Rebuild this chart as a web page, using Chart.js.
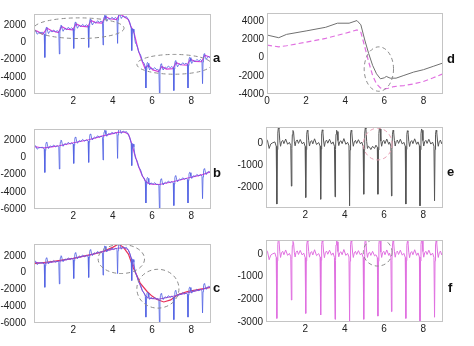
<!DOCTYPE html>
<html><head><meta charset="utf-8">
<script src="https://cdn.jsdelivr.net/npm/chart.js@4"></script>
<style>
html,body{margin:0;padding:0;background:#fff;}
#fig{position:relative;width:474px;height:346px;overflow:hidden;background:#fff;}
#fig canvas{position:absolute;}
.lbl{position:absolute;font:bold 13px "Liberation Sans",Arial,sans-serif;line-height:13px;color:#111;}
</style></head><body>
<div id="fig">
<canvas id="ca" width="237" height="115" style="left:0px;top:0px"></canvas>
<canvas id="cb" width="237" height="115" style="left:0px;top:115px"></canvas>
<canvas id="cc" width="237" height="116" style="left:0px;top:230px"></canvas>
<canvas id="cd" width="237" height="115" style="left:237px;top:0px"></canvas>
<canvas id="ce" width="237" height="115" style="left:237px;top:115px"></canvas>
<canvas id="cf" width="237" height="116" style="left:237px;top:230px"></canvas>
<div class="lbl" style="left:213px;top:51px">a</div>
<div class="lbl" style="left:213px;top:166px">b</div>
<div class="lbl" style="left:213px;top:281px">c</div>
<div class="lbl" style="left:447px;top:52px">d</div>
<div class="lbl" style="left:447px;top:165px">e</div>
<div class="lbl" style="left:448px;top:281px">f</div>
</div>
<script>
// ---------- tick labels ----------
const xTicksMain = [2, 4, 6, 8];
const xTicksD = [0, 2, 4, 6, 8];
const yTicksABC = [-6000, -4000, -2000, 0, 2000];
const yTicksD = [-4000, -2000, 0, 2000, 4000];
const yTicksE = [-2000, -1000, 0];
const yTicksF = [-3000, -2000, -1000, 0];

// ---------- shared time grid of the ECG traces (s) ----------
const ecgTime = [0,0.08,0.16,0.24,0.32,
0.45,0.52,0.55,0.575,0.60,0.63,0.66,0.70,0.74,0.79,0.85,0.91,1.00,1.10,
1.19,1.26,1.29,1.315,1.34,1.37,1.40,1.44,1.48,1.53,1.59,1.65,1.74,1.84,
1.92,1.99,2.02,2.045,2.07,2.10,2.13,2.17,2.21,2.26,2.32,2.38,2.47,2.57,
2.68,2.75,2.78,2.805,2.83,2.86,2.89,2.93,2.97,3.02,3.08,3.14,3.23,3.33,
3.41,3.48,3.51,3.535,3.56,3.59,3.62,3.66,3.70,3.75,3.81,3.87,3.96,4.06,
4.15,4.22,4.25,4.275,4.30,4.33,4.36,4.40,4.44,4.49,4.55,4.61,4.70,4.80,
4.87,4.94,4.97,4.995,5.02,5.05,5.08,5.12,5.16,5.21,5.27,5.33,5.42,5.52,
5.59,5.66,5.69,5.715,5.74,5.77,5.80,5.84,5.88,5.93,5.99,6.05,6.14,6.24,
6.28,6.35,6.38,6.405,6.43,6.46,6.49,6.53,6.57,6.62,6.68,6.74,6.83,6.93,
7.01,7.08,7.11,7.135,7.16,7.19,7.22,7.26,7.30,7.35,7.41,7.47,7.56,7.66,
7.73,7.80,7.83,7.855,7.88,7.91,7.94,7.98,8.02,8.07,8.13,8.19,8.28,8.38,
8.47,8.54,8.57,8.595,8.62,8.65,8.68,8.72,8.76,8.81,8.87,8.93,9.02];

// raw ECG with baseline wander (blue, panels a, b, c)
const rawEcg = [1500,1350,950,1100,1150,
1170,960,-1750,810,1520,1750,1700,1260,1030,1260,1340,1200,1440,1230,
1370,1190,-1350,1060,1770,2010,1960,1520,1290,1530,1610,1490,1750,1550,
1700,1540,-700,1410,2120,2360,2310,1870,1640,1870,1960,1840,2090,1890,
2050,1890,-580,1770,2480,2720,2680,2240,2020,2260,2360,2240,2510,2330,
2490,2330,-300,2210,2930,3160,3120,2680,2450,2690,2780,2660,2920,2740,
2900,2730,-120,2600,3310,3530,3480,3020,2780,2990,3060,2910,3000,2640,
2300,1640,-950,1090,1580,1540,1230,460,-90,-240,-610,-1150,-1460,-2230,
-2380,-2840,-5300,-3150,-2490,-2330,-2440,-2920,-3190,-3000,-2980,-3140,-2940,-3190,
-3090,-3300,-6100,-3440,-2730,-2490,-2540,-2980,-3210,-2980,-2890,-3010,-2750,-2950,
-2800,-2960,-5600,-3090,-2370,-2140,-2180,-2620,-2840,-2610,-2510,-2630,-2370,-2550,
-2410,-2570,-5300,-2690,-1970,-1740,-1780,-2220,-2450,-2210,-2120,-2240,-1980,-2160,
-2000,-2170,-4800,-2280,-1560,-1320,-1350,-1780,-2000,-1750,-1640,-1740,-1450];

// corrected ECG, panel e (gray)
const ecgE = [200,100,-250,-50,0,
50,-150,-2790,-300,450,720,650,100,-150,60,120,-30,180,-60,
30,-120,-1970,-250,380,570,520,80,-130,80,140,-20,160,-40,
40,-160,-2490,-300,400,580,530,120,-140,50,110,-40,190,-70,
20,-140,-2570,-280,420,600,540,90,-160,70,130,-10,170,-50,
50,-150,-2460,-300,400,580,520,110,-120,60,100,-30,200,-60,
30,-130,-2870,-320,410,580,530,90,-150,50,120,-20,150,-40,
40,-150,-2340,-300,450,720,640,60,-250,-150,-200,-300,-150,-250,
-100,-200,-2340,-320,430,720,640,90,-150,60,120,-30,180,-60,
40,-140,-2420,-300,400,580,520,100,-140,70,130,-20,170,-50,
30,-150,-2790,-290,390,560,510,80,-160,50,110,-30,190,-60,
50,-130,-2870,-310,420,640,580,110,-140,60,120,-20,170,-50,
40,-150,-2640,-300,400,580,520,90,-150,60,130,-30,150];

// corrected ECG, panel f (magenta)
const ecgF = [200,100,-250,-50,0,
50,-150,-2840,-300,430,650,600,100,-150,60,120,-30,180,-60,
30,-120,-2030,-250,380,560,510,80,-130,80,140,-20,160,-40,
40,-160,-2620,-300,400,580,530,120,-140,50,110,-40,190,-70,
20,-140,-2690,-280,420,600,540,90,-160,70,130,-10,170,-50,
50,-150,-2880,-300,400,600,540,110,-120,60,100,-30,200,-60,
30,-130,-2990,-320,410,600,540,90,-150,50,120,-20,150,-40,
40,-150,-2880,-300,430,640,580,80,-150,40,80,-60,120,-80,
-30,-160,-2740,-320,430,680,610,90,-150,60,120,-30,180,-60,
40,-140,-2540,-300,400,580,520,100,-140,70,130,-20,170,-50,
30,-150,-2840,-290,390,560,510,80,-160,50,110,-30,190,-60,
50,-130,-2990,-310,420,640,580,110,-140,60,120,-20,170,-50,
40,-150,-2790,-300,400,580,520,90,-150,60,130,-30,150];

// baseline estimate, panel a (magenta, wobbly)
const baseATime = [0,0.2,0.45,0.67,0.9,1.24,1.41,1.64,1.97,2.14,2.37,2.73,2.90,3.13,3.46,3.63,3.86,4.20,4.37,4.6,4.8,4.92,5.09,5.3,5.5,5.64,5.81,6.04,6.33,6.50,6.73,7.06,7.23,7.46,7.78,7.95,8.18,8.52,8.69,8.92,9.0];
const baseAVal = [1450,1250,950,1650,1350,1150,1850,1550,1450,2150,1900,1800,2550,2300,2250,3000,2750,2650,3300,2950,2650,1900,1100,-900,-2200,-3000,-2650,-3200,-3400,-2800,-3100,-3050,-2350,-2600,-2650,-1950,-2200,-2250,-1500,-1700,-1750];

// baseline estimate, panels b and c (magenta, smooth)
const baseBTime = [0,0.3,0.55,0.8,1.29,2.02,2.78,3.51,4.25,4.6,4.8,4.97,5.1,5.3,5.5,5.69,5.8,6.0,6.38,7.11,7.83,8.57,9.0];
const baseBVal = [1250,1150,1100,1200,1350,1700,2050,2500,2900,2950,2700,1600,500,-950,-2100,-2800,-3000,-3100,-3150,-2800,-2400,-2000,-1650];

// smoothed estimate, panel c (red)
const smoothCTime = [0,1,2,3,3.5,4.0,4.3,4.55,4.8,5.06,5.4,5.75,6.0,6.26,6.6,6.95,7.3,7.8,8.4,9.0];
const smoothCVal = [1050,1350,1700,2200,2500,3000,3400,3000,2200,500,-1250,-2250,-2800,-3200,-3500,-3250,-2650,-2250,-2000,-1750];

// panel d: baseline (gray solid) and estimate (magenta dashed)
const baseDTime = [0,0.6,1,2,3,3.6,4.2,4.6,4.8,5.0,5.2,5.4,5.6,5.8,6.0,6.1,6.3,6.6,7.0,7.5,8.0,8.5,9.0];
const baseDVal = [2480,2185,2550,2930,3330,3780,3780,4070,3600,1930,440,-850,-1780,-2330,-2220,-2070,-2260,-2260,-1960,-1590,-1330,-960,-590];
const estDTime = [0,0.6,1,2,3,4,4.6,4.8,5.0,5.2,5.4,5.6,5.8,6.0,6.2,6.5,7,7.5,8,8.5,9];
const estDVal = [1370,1185,1300,1700,2110,2670,3040,2780,1185,-480,-1960,-2890,-3330,-3440,-3370,-3180,-3070,-2890,-2630,-2220,-1780];

// dashed highlight ellipses: [centre x, centre y, radius x, radius y] in data units
const ellipsesA = [[2.29, 1650, 2.29, 1200], [7.13, -2550, 1.9, 1150]];
const ellipsesC = [[4.44, 1615, 1.18, 1730], [6.3, -1920, 1.07, 2310]];
const ellipsesD = [[5.72, -1260, 0.75, 2440]];
const ellipsesE = [[5.68, -50, 0.73, 725]];
const ellipsesF = [[5.68, 80, 0.73, 610]];

// ---------- helpers ----------
const zip = (xs, ys) => xs.map((x, i) => ({x: x, y: ys[i]}));
const FONT = {family: '"Liberation Sans", Arial, sans-serif', size: 10};
const TXT = '#222';

const framePlugin = {
  id: 'frame',
  afterDraw(chart) {
    const a = chart.chartArea, ctx = chart.ctx;
    ctx.save();
    ctx.strokeStyle = '#c4c4c4';
    ctx.lineWidth = 1;
    ctx.strokeRect(Math.round(a.left) + 0.5, Math.round(a.top) + 0.5,
                   Math.round(a.right - a.left) - 1, Math.round(a.bottom - a.top) - 1);
    ctx.restore();
  }
};
function ellipsePlugin(list, color) {
  return {
    id: 'ell',
    afterDatasetsDraw(chart) {
      const a = chart.chartArea, ctx = chart.ctx;
      const xs = chart.scales.x, ys = chart.scales.y;
      ctx.save();
      ctx.beginPath();
      ctx.rect(a.left, a.top, a.right - a.left, a.bottom - a.top);
      ctx.clip();
      ctx.strokeStyle = color;
      ctx.lineWidth = 1;
      ctx.setLineDash([4, 3]);
      list.forEach(e => {
        const cx = xs.getPixelForValue(e[0]), cy = ys.getPixelForValue(e[1]);
        const rx = Math.abs(xs.getPixelForValue(e[0] + e[2]) - cx);
        const ry = Math.abs(ys.getPixelForValue(e[1] + e[3]) - cy);
        ctx.beginPath();
        ctx.ellipse(cx, cy, rx, ry, 0, 0, Math.PI * 2);
        ctx.stroke();
      });
      ctx.restore();
    }
  };
}
function line(data, color, width, dash) {
  return {data: data, showLine: true, borderColor: color, borderWidth: width,
          borderDash: dash || [], pointRadius: 0, tension: 0, fill: false};
}
function make(id, p) {
  new Chart(document.getElementById(id), {
    type: 'scatter',
    data: {datasets: p.datasets},
    options: {
      responsive: false, animation: false, devicePixelRatio: 1,
      layout: {padding: {left: 0, top: p.pad[0], right: p.pad[1], bottom: p.pad[2]}},
      plugins: {legend: {display: false}, tooltip: {enabled: false}},
      scales: {
        x: {type: 'linear', min: 0, max: 9,
            grid: {display: false, drawTicks: false}, border: {display: false},
            ticks: {font: FONT, color: TXT, padding: 1, maxRotation: 0, autoSkip: false,
                    callback: v => String(v)},
            afterBuildTicks: s => { s.ticks = p.xt.map(v => ({value: v})); },
            afterFit: s => { s.height = 14; }},
        y: {type: 'linear', min: p.ymin, max: p.ymax,
            grid: {display: false, drawTicks: false}, border: {display: false},
            ticks: {font: FONT, color: TXT, padding: p.yPad, autoSkip: false,
                    callback: v => String(v)},
            afterBuildTicks: s => { s.ticks = p.yt.map(v => ({value: v})); },
            afterFit: s => { s.width = p.yW; }}
      }
    },
    plugins: [framePlugin, ellipsePlugin(p.ell || [], p.ellColor || '#8c8c8c')]
  });
}

const BLUE = 'rgba(80,98,228,0.8)';
const MAG = '#dc3ed8';
const raw = zip(ecgTime, rawEcg);

make('ca', {xt: xTicksMain, yt: yTicksABC, ymin: -6000, ymax: 3300, yW: 34, yPad: 8, pad: [13, 26, 7],
  ell: ellipsesA,
  datasets: [line(raw, BLUE, 1), line(zip(baseATime, baseAVal), MAG, 1.2)]});
make('cb', {xt: xTicksMain, yt: yTicksABC, ymin: -6000, ymax: 3300, yW: 34, yPad: 8, pad: [13, 26, 7],
  datasets: [line(raw, BLUE, 1), line(zip(baseBTime, baseBVal), MAG, 1.2)]});
make('cc', {xt: xTicksMain, yt: yTicksABC, ymin: -6000, ymax: 3400, yW: 34, yPad: 8, pad: [11, 26, 9],
  ell: ellipsesC,
  datasets: [line(raw, BLUE, 1), line(zip(baseBTime, baseBVal), '#b040c8', 1),
             line(zip(smoothCTime, smoothCVal), '#e8305a', 1.2)]});
make('cd', {xt: xTicksD, yt: yTicksD, ymin: -4000, ymax: 4900, yW: 30, yPad: 3, pad: [13, 31, 7],
  ell: ellipsesD,
  datasets: [line(zip(baseDTime, baseDVal), '#707070', 1),
             line(zip(estDTime, estDVal), '#e070e0', 1.2, [5, 3])]});
make('ce', {xt: xTicksMain, yt: yTicksE, ymin: -2970, ymax: 730, yW: 29, yPad: 3, pad: [12, 31, 8],
  ell: ellipsesE, ellColor: '#e8a0b4',
  datasets: [line(zip(ecgTime, ecgE), '#555', 1)]});
make('cf', {xt: xTicksMain, yt: yTicksF, ymin: -3000, ymax: 620, yW: 29, yPad: 3, pad: [10, 31, 10],
  ell: ellipsesF,
  datasets: [line(zip(ecgTime, ecgF), '#e070e0', 1)]});
</script>
</body></html>
